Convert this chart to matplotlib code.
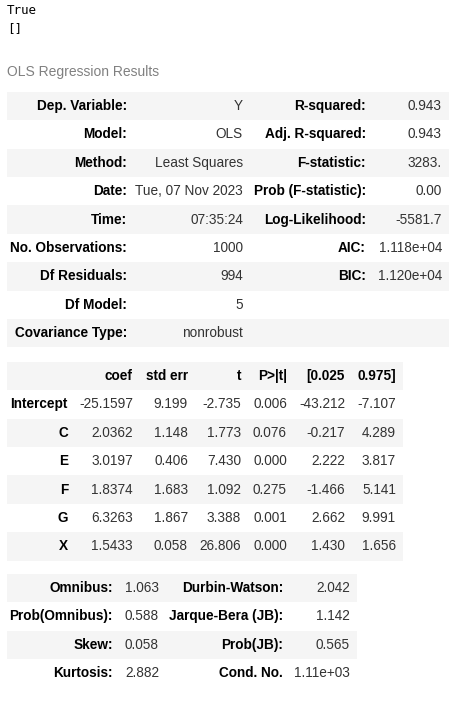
import matplotlib
matplotlib.use("Agg")
import matplotlib.pyplot as plt
from matplotlib.patches import Rectangle

# summary table 1
top_labels_l = ["Dep. Variable:", "Model:", "Method:", "Date:", "Time:",
                "No. Observations:", "Df Residuals:", "Df Model:", "Covariance Type:"]
top_values_l = ["Y", "OLS", "Least Squares", "Tue, 07 Nov 2023", "07:35:24",
                "1000", "994", "5", "nonrobust"]
top_labels_r = ["R-squared:", "Adj. R-squared:", "F-statistic:", "Prob (F-statistic):",
                "Log-Likelihood:", "AIC:", "BIC:", "", ""]
top_values_r = ["0.943", "0.943", "3283.", "0.00", "-5581.7", "1.118e+04", "1.120e+04", "", ""]

# coefficient table
coef_header = ["", "coef", "std err", "t", "P>|t|", "[0.025", "0.975]"]
coef_names = ["Intercept", "C", "E", "F", "G", "X"]
coef = ["-25.1597", "2.0362", "3.0197", "1.8374", "6.3263", "1.5433"]
std_err = ["9.199", "1.148", "0.406", "1.683", "1.867", "0.058"]
t_vals = ["-2.735", "1.773", "7.430", "1.092", "3.388", "26.806"]
p_vals = ["0.006", "0.076", "0.000", "0.275", "0.001", "0.000"]
ci_low = ["-43.212", "-0.217", "2.222", "-1.466", "2.662", "1.430"]
ci_high = ["-7.107", "4.289", "3.817", "5.141", "9.991", "1.656"]

# diagnostics table
diag_labels_l = ["Omnibus:", "Prob(Omnibus):", "Skew:", "Kurtosis:"]
diag_values_l = ["1.063", "0.588", "0.058", "2.882"]
diag_labels_r = ["Durbin-Watson:", "Jarque-Bera (JB):", "Prob(JB):", "Cond. No."]
diag_values_r = ["2.042", "1.142", "0.565", "1.11e+03"]

W, H = 474, 705
fig = plt.figure(figsize=(W / 100, H / 100), dpi=100)
ax = fig.add_axes([0, 0, 1, 1])
ax.set_xlim(0, W)
ax.set_ylim(H, 0)
ax.axis("off")

FONT = "Liberation Sans"
FS = 9.8
STRIPE = "#f5f5f5"
ROW_H = 28.4


def cell(x, y, s, bold=False):
    ax.text(x, y, s, ha="right", va="center", fontsize=FS, family=FONT,
            fontweight="bold" if bold else "normal",
            color="black" if bold else "#333333")


def table(y0, rows, right_edges, x1, bold_cols, header_bold=False):
    for i, row in enumerate(rows):
        yc = y0 + i * ROW_H
        if i % 2 == 0:
            ax.add_patch(Rectangle((7, yc - ROW_H / 2), x1 - 7, ROW_H,
                                   color=STRIPE, lw=0))
        for j, s in enumerate(row):
            cell(right_edges[j], yc, s, bold=(j in bold_cols) or (header_bold and i == 0))


ax.text(7, 11, "True", family="DejaVu Sans Mono", fontsize=9, va="center")
ax.text(7, 29, "[]", family="DejaVu Sans Mono", fontsize=9, va="center")
ax.text(7, 72, "OLS Regression Results", family=FONT, fontsize=10,
        color="#808080", va="center")

rows1 = list(zip(top_labels_l, top_values_l, top_labels_r, top_values_r))
table(106, rows1, [127, 243, 366, 442], 449, {0, 2})

rows2 = [coef_header] + [list(r) for r in zip(coef_names, coef, std_err, t_vals,
                                              p_vals, ci_low, ci_high)]
table(376, rows2, [68, 133, 188, 241, 287, 345, 396], 403, {0}, header_bold=True)

rows3 = list(zip(diag_labels_l, diag_values_l, diag_labels_r, diag_values_r))
table(588, rows3, [113, 159, 283, 350], 357, {0, 2})

fig.savefig("out.png", dpi=100)
